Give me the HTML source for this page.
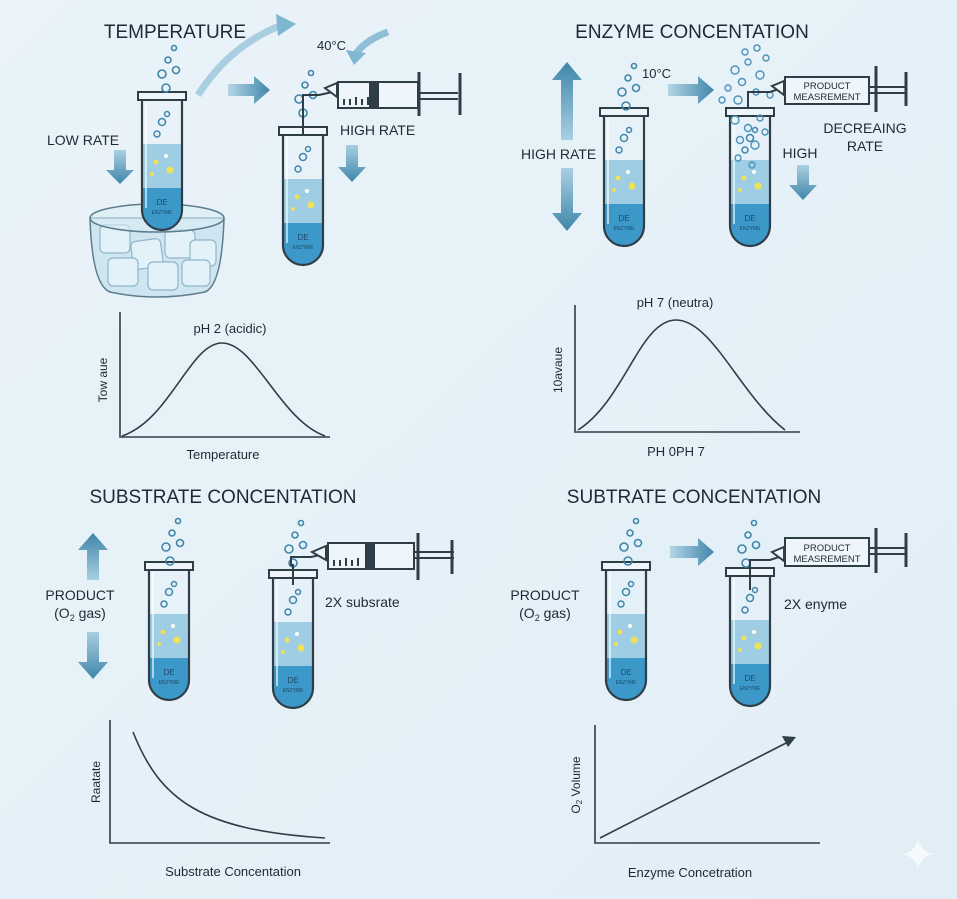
<!DOCTYPE html>
<html><head><meta charset="utf-8"><style>
html,body{margin:0;padding:0;background:#e5f0f7;}
svg{display:block;font-family:"Liberation Sans",sans-serif;}
</style></head><body>
<svg width="957" height="899" viewBox="0 0 957 899" xmlns="http://www.w3.org/2000/svg">
<defs>
<linearGradient id="bg" x1="0" y1="0" x2="1" y2="1"><stop offset="0" stop-color="#e9f3f9"/><stop offset="1" stop-color="#e2eef6"/></linearGradient>
<linearGradient id="ad" x1="0" y1="0" x2="0" y2="1"><stop offset="0" stop-color="#a9cfe2"/><stop offset="1" stop-color="#3f86aa"/></linearGradient>
<linearGradient id="au" x1="0" y1="1" x2="0" y2="0"><stop offset="0" stop-color="#a9cfe2"/><stop offset="1" stop-color="#3f86aa"/></linearGradient>
<linearGradient id="ar" x1="0" y1="0" x2="1" y2="0"><stop offset="0" stop-color="#b5d6e6"/><stop offset="1" stop-color="#3f86aa"/></linearGradient>
<g id="tube">
<path d="M-20,52 L20,52 L20,118 A20,20 0 0 1 -20,118 Z" fill="#9fcde3"/>
<path d="M-20,96 L20,96 L20,118 A20,20 0 0 1 -20,118 Z" fill="#3b98c9"/>
<path d="M-20,8 L-20,118 A20,20 0 0 0 20,118 L20,8" fill="none" stroke="#2f3d47" stroke-width="2.2"/>
<path d="M-16,10 L-16,116" stroke="#fff" stroke-opacity=".6" stroke-width="2"/>
<rect x="-24" y="0" width="48" height="8" fill="#eef6fb" stroke="#2f3d47" stroke-width="2"/>
<circle cx="-6" cy="70" r="2.5" fill="#f0e05a"/><circle cx="8" cy="78" r="3.5" fill="#f0e05a"/><circle cx="-10" cy="82" r="2" fill="#f0e05a"/><circle cx="4" cy="64" r="2" fill="#fff"/>
<circle cx="0" cy="30" r="3.5" fill="none" stroke="#3f86aa" stroke-width="1.5"/><circle cx="-5" cy="42" r="3" fill="none" stroke="#3f86aa" stroke-width="1.5"/><circle cx="5" cy="22" r="2.5" fill="none" stroke="#3f86aa" stroke-width="1.5"/>
<text x="0" y="113" font-size="8" text-anchor="middle" fill="#1d4a66">DE</text>
<text x="0" y="122" font-size="5" text-anchor="middle" fill="#1d4a66">ENZYME</text>
</g>
<g id="bub" fill="none" stroke="#3f86aa" stroke-width="1.6">
<circle cx="0" cy="0" r="3"/><circle cx="-6" cy="14" r="4"/><circle cx="8" cy="10" r="3.5"/><circle cx="-2" cy="28" r="4"/><circle cx="6" cy="-12" r="2.5"/>
</g>
</defs>
<rect width="957" height="899" fill="url(#bg)"/>

<!-- Titles -->
<g font-size="19" fill="#1e2a33" text-anchor="middle">
<text x="175" y="38">TEMPERATURE</text>
<text x="692" y="38">ENZYME CONCENTATION</text>
<text x="223" y="503">SUBSTRATE CONCENTATION</text>
<text x="694" y="503">SUBTRATE CONCENTATION</text>
</g>

<!-- ===== Top-left ===== -->
<!-- ice bowl -->
<g>
<path d="M90,218 Q92,285 110,292 Q156,302 205,292 Q222,285 224,218 Z" fill="#cfe6f1" stroke="#5d7d8f" stroke-width="1.5"/>
<g fill="#e3f1f8" stroke="#8fb6c9" stroke-width="1.2">
<rect x="100" y="225" width="30" height="28" rx="5"/><rect x="132" y="240" width="30" height="28" rx="5" transform="rotate(-8 147 254)"/>
<rect x="165" y="230" width="30" height="28" rx="5"/><rect x="190" y="240" width="26" height="26" rx="5"/>
<rect x="108" y="258" width="30" height="28" rx="5"/><rect x="148" y="262" width="30" height="28" rx="5"/><rect x="182" y="260" width="28" height="26" rx="5"/>
</g>
<ellipse cx="157" cy="218" rx="67" ry="14" fill="#d9ecf5" fill-opacity=".6" stroke="#5d7d8f" stroke-width="1.5"/>
</g>
<use href="#tube" x="162" y="92"/>
<use href="#bub" x="168" y="60"/>
<text x="47" y="145" font-size="14" fill="#1e2a33">LOW RATE</text>
<path d="M114,150 h12 v20 h8 l-14,14 l-14,-14 h8z" fill="url(#ad)"/>
<path d="M198,95 Q230,45 282,25" fill="none" stroke="#8fbfd6" stroke-width="7" stroke-opacity=".7"/>
<path d="M276,14 l20,10 l-18,12z" fill="#7fb6d0"/>
<path d="M228,84 h26 v-8 l16,14 l-16,14 v-8 h-26z" fill="url(#ar)"/>
<text x="317" y="50" font-size="13" fill="#1e2a33">40°C</text>
<path d="M388,32 Q365,40 355,55" fill="none" stroke="#8fbfd6" stroke-width="7"/>
<path d="M346,50 l8,15 l12,-12z" fill="#7fb6d0"/>
<use href="#tube" x="303" y="127"/>
<use href="#bub" x="305" y="85"/>
<!-- syringe TL -->
<g stroke="#2f3d47" stroke-width="2" fill="none">
<path d="M303,135 v-40 h16 l18,-4"/>
<path d="M325,88 l12,-5 v14 z" fill="#eef6fb"/>
<rect x="338" y="82" width="80" height="26" fill="#eef6fb"/>
<path d="M418,93 h40 M418,99 h40"/>
<rect x="370" y="84" width="8" height="22" fill="#2f3d47"/>
<path d="M419,72 v44 M460,73 v42" stroke-width="3"/>
<path d="M344,105 v-6 M350,105 v-6 M356,105 v-8 M362,105 v-6 M368,105 v-8"/>
</g>
<text x="340" y="135" font-size="14" fill="#1e2a33">HIGH RATE</text>
<path d="M346,145 h12 v22 h8 l-14,15 l-14,-15 h8z" fill="url(#ad)"/>

<!-- graph 1 -->
<g stroke="#2f3d47" stroke-width="1.6" fill="none">
<path d="M120,312 V437 H330"/>
<path d="M122,436 C170,420 190,343 222,343 C255,343 280,420 325,436"/>
</g>
<text x="230" y="333" font-size="13" fill="#1e2a33" text-anchor="middle">pH 2 (acidic)</text>
<text transform="translate(107,380) rotate(-90)" font-size="12" text-anchor="middle" fill="#1e2a33">Tow aue</text>
<text x="223" y="459" font-size="13" text-anchor="middle" fill="#1e2a33">Temperature</text>

<!-- ===== Top-right ===== -->
<path d="M561,140 v-60 h-9 l15,-18 l15,18 h-9 v60z" fill="url(#au)"/>
<path d="M561,168 v45 h-9 l15,18 l15,-18 h-9 v-45z" fill="url(#ad)"/>
<text x="521" y="159" font-size="14" fill="#1e2a33">HIGH RATE</text>
<use href="#tube" x="624" y="108"/>
<use href="#bub" x="628" y="78"/>
<text x="642" y="78" font-size="13" fill="#1e2a33">10°C</text>
<path d="M668,84 h30 v-8 l16,14 l-16,14 v-8 h-30z" fill="url(#ar)"/>
<use href="#tube" x="750" y="108"/>
<g fill="none" stroke="#4a93b8" stroke-width="1.4">
<circle cx="735" cy="70" r="4"/><circle cx="748" cy="62" r="3"/><circle cx="760" cy="75" r="4"/><circle cx="728" cy="88" r="3"/><circle cx="742" cy="82" r="3.5"/><circle cx="756" cy="92" r="3"/><circle cx="766" cy="58" r="3"/><circle cx="722" cy="100" r="3"/><circle cx="738" cy="100" r="4"/><circle cx="770" cy="95" r="3"/>
<circle cx="735" cy="120" r="4"/><circle cx="748" cy="128" r="3.5"/><circle cx="760" cy="118" r="3"/><circle cx="740" cy="140" r="3.5"/><circle cx="755" cy="145" r="4"/><circle cx="765" cy="132" r="3"/><circle cx="738" cy="158" r="3"/><circle cx="752" cy="165" r="3"/><circle cx="745" cy="52" r="3"/><circle cx="757" cy="48" r="3"/>
</g>
<g stroke="#2f3d47" stroke-width="2" fill="none">
<path d="M748,108 v-16 h22 l12,-4"/>
<path d="M772,86 l12,-5 v14z" fill="#eef6fb"/>
<rect x="785" y="77" width="84" height="27" fill="#eef6fb"/>
<path d="M869,87 h36 M869,93 h36"/>
<path d="M876,66 v46 M906,72 v34" stroke-width="3"/>
</g>
<text x="827" y="89" font-size="9.5" text-anchor="middle" fill="#1e2a33">PRODUCT</text>
<text x="827" y="100" font-size="9.5" text-anchor="middle" fill="#1e2a33">MEASREMENT</text>
<text x="865" y="133" font-size="14" text-anchor="middle" fill="#1e2a33">DECREAING</text>
<text x="865" y="151" font-size="14" text-anchor="middle" fill="#1e2a33">RATE</text>
<text x="800" y="158" font-size="14" text-anchor="middle" fill="#1e2a33">HIGH</text>
<path d="M797,165 h12 v20 h8 l-14,15 l-14,-15 h8z" fill="url(#ad)"/>

<!-- graph 2 -->
<g stroke="#2f3d47" stroke-width="1.6" fill="none">
<path d="M575,305 V432 H800"/>
<path d="M578,430 C625,400 640,320 676,320 C712,320 740,395 785,430"/>
</g>
<text x="675" y="307" font-size="13" fill="#1e2a33" text-anchor="middle">pH 7 (neutra)</text>
<text transform="translate(562,370) rotate(-90)" font-size="12" text-anchor="middle" fill="#1e2a33">10avaue</text>
<text x="676" y="456" font-size="13" text-anchor="middle" fill="#1e2a33">PH 0PH 7</text>

<!-- ===== Bottom-left ===== -->
<path d="M87,580 v-30 h-9 l15,-17 l15,17 h-9 v30z" fill="url(#au)"/>
<path d="M87,632 v30 h-9 l15,17 l15,-17 h-9 v-30z" fill="url(#ad)"/>
<text x="80" y="600" font-size="14" text-anchor="middle" fill="#1e2a33">PRODUCT</text>
<text x="80" y="618" font-size="14" text-anchor="middle" fill="#1e2a33">(O<tspan font-size="9" dy="3">2</tspan><tspan dy="-3"> gas)</tspan></text>
<use href="#tube" x="169" y="562"/>
<use href="#bub" x="172" y="533"/>
<use href="#tube" x="293" y="570"/>
<use href="#bub" x="295" y="535"/>
<g stroke="#2f3d47" stroke-width="2" fill="none">
<path d="M293,585 v-20 h-2 v-8 h20 l14,-3"/>
<path d="M312,552 l14,-6 v14z" fill="#eef6fb"/>
<rect x="328" y="543" width="86" height="26" fill="#eef6fb"/>
<path d="M414,552 h40 M414,558 h40"/>
<rect x="366" y="545" width="8" height="22" fill="#2f3d47"/>
<path d="M418,533 v47 M452,540 v34" stroke-width="3"/>
<path d="M334,566 v-6 M340,566 v-6 M346,566 v-8 M352,566 v-6 M358,566 v-8"/>
</g>
<text x="325" y="607" font-size="14" fill="#1e2a33">2X subsrate</text>
<!-- graph 3 -->
<g stroke="#2f3d47" stroke-width="1.6" fill="none">
<path d="M110,720 V843 H330"/>
<path d="M133,732 C160,800 200,830 325,838"/>
</g>
<text transform="translate(100,782) rotate(-90)" font-size="12" text-anchor="middle" fill="#1e2a33">Raatate</text>
<text x="233" y="876" font-size="13" text-anchor="middle" fill="#1e2a33">Substrate Concentation</text>

<!-- ===== Bottom-right ===== -->
<text x="545" y="600" font-size="14" text-anchor="middle" fill="#1e2a33">PRODUCT</text>
<text x="545" y="618" font-size="14" text-anchor="middle" fill="#1e2a33">(O<tspan font-size="9" dy="3">2</tspan><tspan dy="-3"> gas)</tspan></text>
<use href="#tube" x="626" y="562"/>
<use href="#bub" x="630" y="533"/>
<path d="M670,546 h28 v-8 l16,14 l-16,14 v-8 h-28z" fill="url(#ar)"/>
<use href="#tube" x="750" y="568"/>
<use href="#bub" x="748" y="535"/>
<g stroke="#2f3d47" stroke-width="2" fill="none">
<path d="M750,590 v-30 h20 l12,-4"/>
<path d="M772,552 l12,-5 v14z" fill="#eef6fb"/>
<rect x="785" y="538" width="84" height="28" fill="#eef6fb"/>
<path d="M869,548 h36 M869,554 h36"/>
<path d="M876,528 v45 M906,533 v34" stroke-width="3"/>
</g>
<text x="827" y="551" font-size="9.5" text-anchor="middle" fill="#1e2a33">PRODUCT</text>
<text x="827" y="562" font-size="9.5" text-anchor="middle" fill="#1e2a33">MEASREMENT</text>
<text x="784" y="609" font-size="14" fill="#1e2a33">2X enyme</text>
<!-- graph 4 -->
<g stroke="#2f3d47" stroke-width="1.6" fill="none">
<path d="M595,725 V843 H820"/>
<path d="M600,838 L792,740"/>
</g>
<path d="M796,737 l-14,-1 l6,11z" fill="#2f3d47"/>
<text transform="translate(580,785) rotate(-90)" font-size="12" text-anchor="middle" fill="#1e2a33">O<tspan font-size="8" dy="2">2</tspan><tspan dy="-2"> Volume</tspan></text>
<text x="690" y="877" font-size="13" text-anchor="middle" fill="#1e2a33">Enzyme Concetration</text>
<path d="M918,838 q2,14 16,16 q-14,2 -16,16 q-2,-14 -16,-16 q14,-2 16,-16z" fill="#fff" fill-opacity=".7"/>
</svg>
</body></html>
